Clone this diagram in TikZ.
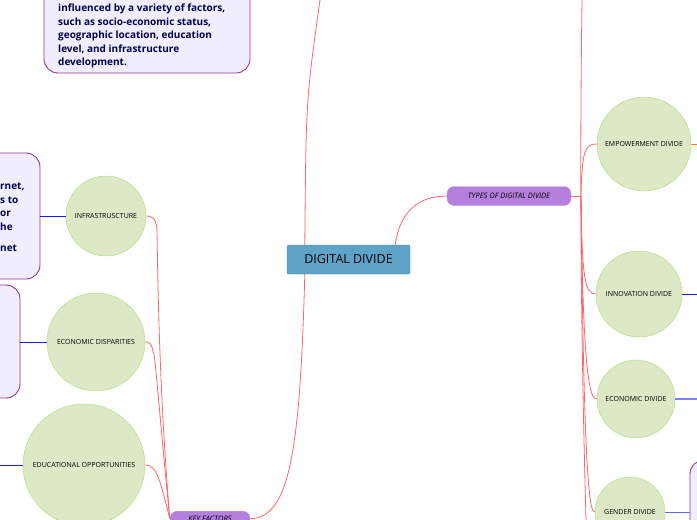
\documentclass[tikz,border=0pt]{standalone}
\usepackage{fontspec}
\setmainfont{Open Sans}
\begin{document}
\begin{tikzpicture}[x=1pt,y=-1pt,
 circ/.style={circle,draw=green!50!yellow!60!gray!60,fill=cgreen,line width=0.5pt,font=\fontsize{7}{8}\selectfont,inner sep=0pt},
 pill/.style={rounded corners=7pt,fill=cpurp,draw=cpurp!80,font=\fontsize{7.5}{8}\selectfont\itshape,inner sep=0pt},
 box/.style={rounded corners=14pt,draw=violet!80!white,fill=clav,line width=0.9pt},
 red/.style={draw=red!60,line width=0.8pt},
 blue/.style={draw=blue!90,line width=0.9pt}]
\definecolor{cgreen}{HTML}{DDE9C6}
\definecolor{cpurp}{HTML}{B57FDD}
\definecolor{clav}{HTML}{F0EEFC}
\definecolor{cblue}{HTML}{5FA3C9}
\useasboundingbox (0,0) rectangle (697,520);
% boxes
\draw[box] (44,-30) rectangle (250,73);
\node[anchor=north west,align=left,text=blue!30!black,font=\fontsize{10}{13.5}\selectfont\bfseries,inner sep=0pt] (t1) at (58,4) {influenced by a variety of factors,\\such as socio-economic status,\\geographic location, education\\level, and infrastructure\\development.};
\draw[box] (-40,153) rectangle (40,279);
\node[anchor=north west,align=left,text=blue!30!black,font=\fontsize{10}{13.5}\selectfont\bfseries,inner sep=0pt] (t2) at (0,183) {rnet,\\s to\\or\\he\\[8pt]net};
\draw[box] (-40,285) rectangle (20,398);
\draw[box] (690,460) rectangle (740,560);
% center
\node[fill=cblue,draw=cblue!80!black,rounded corners=1.5pt,minimum width=123pt,minimum height=29pt,inner sep=0pt,font=\fontsize{12.5}{13}\selectfont] (c) at (348.5,259.5) {DIGITAL DIVIDE};
\node[pill,minimum width=124pt,minimum height=19pt] (types) at (509,196) {TYPES OF DIGITAL DIVIDE};
\node[pill,minimum width=80pt,minimum height=15pt,anchor=north] (key) at (210,511) {KEY FACTORS};
% circles
\node[circ,minimum size=80pt] (inf) at (106,216) {INFRASTRUSCTURE};
\node[circ,minimum size=98pt] (eco) at (96,342) {ECONOMIC DISPARITIES};
\node[circ,minimum size=122pt] (edu) at (84,465) {EDUCATIONAL OPPORTUNITIES};
\node[circ,minimum size=94pt] (emp) at (644,144) {EMPOWERMENT DIVIDE};
\node[circ,minimum size=86pt] (inn) at (639,294) {INNOVATION DIVIDE};
\node[circ,minimum size=78pt] (ecd) at (636,399) {ECONOMIC DIVIDE};
\node[circ,minimum size=70pt] (gen) at (630,512) {GENDER DIVIDE};
\coordinate (top1) at (320,0);
\coordinate (top2) at (582,0);
\coordinate (bot2) at (586,520);
% red connectors
\draw[red] (c.north west)++(18,0) .. controls (306,100) .. (top1);
\draw[red] (c.north east)++(-15,0) .. controls (400,210) and (420,196) .. (types.west);
\draw[red] (c.south west)++(18,0) .. controls (300,450) and (290,518) .. (key.east);
\draw[red] (types.east) -- (581,196);
\draw[red] (top2) .. controls (580,150) and (580,300) .. (bot2);
\draw[red] (581,196) .. controls (582,150) and (585,144) .. (emp.west);
\draw[red] (581,196) .. controls (582,280) and (585,294) .. (inn.west);
\draw[red] (581,196) .. controls (583,380) and (590,399) .. (ecd.west);
\draw[red] (581,196) .. controls (584,490) and (590,512) .. (gen.west);
\draw[red] (key.west) .. controls (160,400) and (158,300) .. (157,230) .. controls (156,216) and (150,216) .. (inf.east);
\draw[red] (key.west) .. controls (158,400) and (155,350) .. (153,352) .. controls (152,342) and (148,342) .. (eco.east);
\draw[red] (key.west) .. controls (160,480) and (157,465) .. (edu.east);
% blue connectors
\draw[blue] (inf.west) -- (40,216);
\draw[blue] (eco.west) -- (20,342);
\draw[blue] (edu.west) -- (0,465);
\draw[draw=orange,line width=0.8pt] (emp.east) -- (697,144);
\draw[blue] (inn.east) -- (697,294);
\draw[draw=blue!50,line width=1.2pt] (ecd.east) -- (697,399);
\draw[draw=blue!60,line width=0.8pt] (gen.east) -- (690,512);
\end{tikzpicture}
\end{document}
